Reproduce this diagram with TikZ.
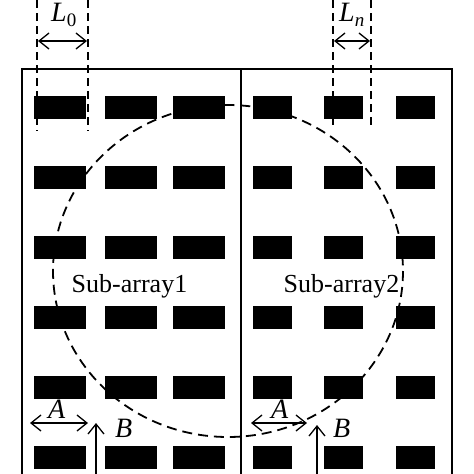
\documentclass[tikz,border=0pt]{standalone}
\usepackage{fontspec}
\setmainfont{Liberation Serif}
\usetikzlibrary{arrows.meta}
\begin{document}
\begin{tikzpicture}[x=1pt,y=-1pt,
  elem/.style={fill=black},
  guide/.style={line width=1.8pt,dash pattern=on 8pt off 5pt},
  ring/.style={line width=1.8pt,dash pattern=on 10pt off 6pt},
  dim/.style={line width=1.3pt,{Straight Barb[length=10pt,width=16pt]}-{Straight Barb[length=10pt,width=16pt]}},
  updim/.style={line width=1.3pt,-{Straight Barb[length=10pt,width=16pt]}},
  lbl/.style={font=\fontsize{26}{28}\selectfont, inner sep=0pt, anchor=base},
  mlbl/.style={font=\fontsize{28}{30}\selectfont\itshape, inner sep=0pt, anchor=base west}]
\useasboundingbox (0,0) rectangle (474,474);
\begin{scope}
\clip (0,0) rectangle (474,474);
% frame
\draw[line width=1.3pt] (22,480) -- (22,69) -- (452,69) -- (452,480);
\draw[line width=1.3pt] (241,69) -- (241,480);
% elements
\foreach \r in {0,...,5}{
  \foreach \x in {34,105,173}{
    \fill[elem] (\x,{96+70*\r}) rectangle ++(52,23);
  }
  \foreach \x in {253,324,396}{
    \fill[elem] (\x,{96+70*\r}) rectangle ++(39,23);
  }
}
% guides
\coordinate (g0a) at (37,0); \coordinate (g0b) at (37,131);
\coordinate (g1a) at (88,0); \coordinate (g1b) at (88,131);
\coordinate (gna) at (333,0); \coordinate (gnb) at (333,129);
\coordinate (gma) at (371,0); \coordinate (gmb) at (371,129);
\draw[guide] (g0a) -- (g0b);
\draw[guide] (g1a) -- (g1b);
\draw[guide] (gna) -- (gnb);
\draw[guide] (gma) -- (gmb);
\coordinate (L0l) at (38,41); \coordinate (L0r) at (87,41);
\coordinate (Lnl) at (334,41); \coordinate (Lnr) at (370,41);
\draw[dim] (L0l) -- (L0r);
\draw[dim] (Lnl) -- (Lnr);
\node[mlbl] (L0) at (51,21) {L\raisebox{-0.18em}{\fontsize{19}{19}\selectfont\upshape 0}};
\node[mlbl] (Ln) at (339,21) {L\raisebox{-0.18em}{\fontsize{19}{19}\selectfont n}};
% circle
\draw[ring] (228,271) ellipse [x radius=175, y radius=166];
% labels
\node[lbl] (s1) at (129.5,292) {Sub-array1};
\node[lbl] (s2) at (341.5,292) {Sub-array2};
% A / B
\coordinate (A1l) at (30,423); \coordinate (A1r) at (88,423);
\coordinate (A2l) at (251,423); \coordinate (A2r) at (307,423);
\coordinate (B1b) at (96,480); \coordinate (B1t) at (96,423);
\coordinate (B2b) at (317,480); \coordinate (B2t) at (317,425);
\draw[dim] (A1l) -- (A1r);
\draw[dim] (A2l) -- (A2r);
\draw[updim] (B1b) -- (B1t);
\draw[updim] (B2b) -- (B2t);
\node[mlbl] (A1) at (48,418) {A};
\node[mlbl] (A2) at (271,418) {A};
\node[mlbl] (B1) at (115,437) {B};
\node[mlbl] (B2) at (333,437) {B};
\end{scope}
\end{tikzpicture}
\end{document}
